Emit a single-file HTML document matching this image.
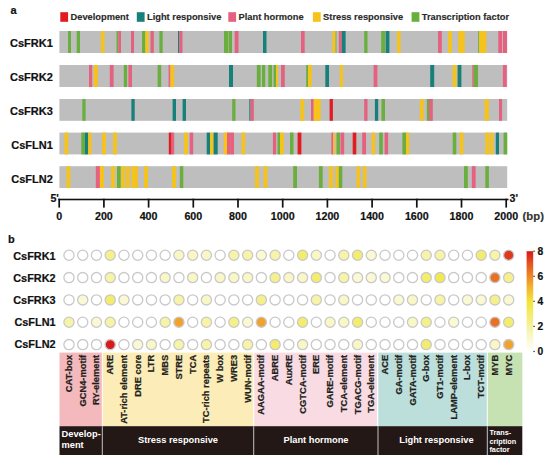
<!DOCTYPE html>
<html><head><meta charset="utf-8"><style>
html,body{margin:0;padding:0;background:#fff;}
body{width:550px;height:463px;overflow:hidden;}
svg{display:block;}
</style></head><body>
<svg width="550" height="463" viewBox="0 0 550 463">
<rect width="550" height="463" fill="#fff"/>
<text x="10.5" y="14.2" font-family="Liberation Sans, sans-serif" font-weight="bold" font-size="11" fill="#111" stroke="#111" stroke-width="0.2">a</text>
<text x="8" y="242.6" font-family="Liberation Sans, sans-serif" font-weight="bold" font-size="11" fill="#111" stroke="#111" stroke-width="0.2">b</text>
<rect x="60.3" y="12.2" width="7.8" height="9.6" fill="#E31B23"/>
<text x="70.5" y="20.4" font-family="Liberation Sans, sans-serif" font-weight="bold" font-size="9.3" fill="#2A2A2A" stroke="#2A2A2A" stroke-width="0.15">Development</text>
<rect x="136.8" y="12.2" width="7.8" height="9.6" fill="#17807A"/>
<text x="147.0" y="20.4" font-family="Liberation Sans, sans-serif" font-weight="bold" font-size="9.3" fill="#2A2A2A" stroke="#2A2A2A" stroke-width="0.15">Light responsive</text>
<rect x="228.3" y="12.2" width="7.8" height="9.6" fill="#E5617F"/>
<text x="238.5" y="20.4" font-family="Liberation Sans, sans-serif" font-weight="bold" font-size="9.3" fill="#2A2A2A" stroke="#2A2A2A" stroke-width="0.15">Plant hormone</text>
<rect x="312.9" y="12.2" width="7.8" height="9.6" fill="#F6C31C"/>
<text x="323.09999999999997" y="20.4" font-family="Liberation Sans, sans-serif" font-weight="bold" font-size="9.3" fill="#2A2A2A" stroke="#2A2A2A" stroke-width="0.15">Stress responsive</text>
<rect x="411.6" y="12.2" width="7.8" height="9.6" fill="#6AAE3E"/>
<text x="421.8" y="20.4" font-family="Liberation Sans, sans-serif" font-weight="bold" font-size="9.3" fill="#2A2A2A" stroke="#2A2A2A" stroke-width="0.15">Transcription factor</text>
<rect x="59.4" y="31" width="447.8" height="22.0" fill="#BEBEBE"/>
<rect x="68" y="31" width="3.00" height="22.0" fill="#6AAE3E"/>
<rect x="76.7" y="31" width="3.30" height="22.0" fill="#6AAE3E"/>
<rect x="100.9" y="31" width="3.60" height="22.0" fill="#F6C31C"/>
<rect x="116.5" y="31" width="1.80" height="22.0" fill="#6AAE3E"/>
<rect x="118.3" y="31" width="2.70" height="22.0" fill="#E5617F"/>
<rect x="131" y="31" width="3.00" height="22.0" fill="#E5617F"/>
<rect x="142" y="31" width="3.40" height="22.0" fill="#6AAE3E"/>
<rect x="145.4" y="31" width="3.30" height="22.0" fill="#F6C31C"/>
<rect x="150.5" y="31" width="3.30" height="22.0" fill="#E5617F"/>
<rect x="159.4" y="31" width="3.30" height="22.0" fill="#6AAE3E"/>
<rect x="178" y="31" width="1.20" height="22.0" fill="#17807A"/>
<rect x="179.2" y="31" width="3.30" height="22.0" fill="#E5617F"/>
<rect x="224" y="31" width="4.30" height="22.0" fill="#6AAE3E"/>
<rect x="228.8" y="31" width="3.20" height="22.0" fill="#6AAE3E"/>
<rect x="234.7" y="31" width="3.80" height="22.0" fill="#E5617F"/>
<rect x="263" y="31" width="3.50" height="22.0" fill="#17807A"/>
<rect x="301" y="31" width="3.70" height="22.0" fill="#E5617F"/>
<rect x="332.4" y="31" width="3.20" height="22.0" fill="#F6C31C"/>
<rect x="335.6" y="31" width="0.80" height="22.0" fill="#6AAE3E"/>
<rect x="338.8" y="31" width="3.00" height="22.0" fill="#E5617F"/>
<rect x="341.8" y="31" width="3.80" height="22.0" fill="#17807A"/>
<rect x="364.2" y="31" width="3.30" height="22.0" fill="#6AAE3E"/>
<rect x="381.2" y="31" width="3.80" height="22.0" fill="#6AAE3E"/>
<rect x="385.6" y="31" width="3.80" height="22.0" fill="#17807A"/>
<rect x="397" y="31" width="3.60" height="22.0" fill="#F6C31C"/>
<rect x="438" y="31" width="3.80" height="22.0" fill="#E5617F"/>
<rect x="448.2" y="31" width="3.80" height="22.0" fill="#F6C31C"/>
<rect x="458.3" y="31" width="6.40" height="22.0" fill="#F6C31C"/>
<rect x="478.2" y="31" width="1.00" height="22.0" fill="#6AAE3E"/>
<rect x="479.2" y="31" width="7.10" height="22.0" fill="#F6C31C"/>
<rect x="498.3" y="31" width="3.80" height="22.0" fill="#E5617F"/>
<rect x="503" y="31" width="4.00" height="22.0" fill="#E5617F"/>
<text x="52.8" y="46.9" text-anchor="end" font-family="Liberation Sans, sans-serif" font-weight="bold" font-size="11" fill="#111" stroke="#111" stroke-width="0.2">CsFRK1</text>
<rect x="59.4" y="65" width="447.8" height="22.0" fill="#BEBEBE"/>
<rect x="89" y="65" width="3.20" height="22.0" fill="#E5617F"/>
<rect x="93.8" y="65" width="4.00" height="22.0" fill="#F6C31C"/>
<rect x="109.8" y="65" width="3.80" height="22.0" fill="#E5617F"/>
<rect x="123.8" y="65" width="3.30" height="22.0" fill="#6AAE3E"/>
<rect x="128.4" y="65" width="3.60" height="22.0" fill="#E5617F"/>
<rect x="157.6" y="65" width="3.60" height="22.0" fill="#6AAE3E"/>
<rect x="168.6" y="65" width="1.80" height="22.0" fill="#E5617F"/>
<rect x="170.4" y="65" width="3.80" height="22.0" fill="#F6C31C"/>
<rect x="229" y="65" width="4.00" height="22.0" fill="#17807A"/>
<rect x="256.8" y="65" width="3.90" height="22.0" fill="#6AAE3E"/>
<rect x="262" y="65" width="3.20" height="22.0" fill="#6AAE3E"/>
<rect x="268.3" y="65" width="3.80" height="22.0" fill="#6AAE3E"/>
<rect x="273.6" y="65" width="2.40" height="22.0" fill="#6AAE3E"/>
<rect x="276" y="65" width="2.00" height="22.0" fill="#F6C31C"/>
<rect x="281" y="65" width="3.80" height="22.0" fill="#E5617F"/>
<rect x="306.2" y="65" width="1.80" height="22.0" fill="#6AAE3E"/>
<rect x="308" y="65" width="3.80" height="22.0" fill="#F6C31C"/>
<rect x="325.3" y="65" width="3.70" height="22.0" fill="#17807A"/>
<rect x="339.8" y="65" width="3.20" height="22.0" fill="#F6C31C"/>
<rect x="373.6" y="65" width="3.80" height="22.0" fill="#E5617F"/>
<rect x="430.2" y="65" width="4.00" height="22.0" fill="#17807A"/>
<rect x="452.7" y="65" width="3.90" height="22.0" fill="#F6C31C"/>
<rect x="457.6" y="65" width="3.80" height="22.0" fill="#17807A"/>
<rect x="472.3" y="65" width="1.50" height="22.0" fill="#E5617F"/>
<rect x="473.8" y="65" width="4.20" height="22.0" fill="#6AAE3E"/>
<rect x="502.9" y="65" width="3.80" height="22.0" fill="#E5617F"/>
<text x="52.8" y="80.9" text-anchor="end" font-family="Liberation Sans, sans-serif" font-weight="bold" font-size="11" fill="#111" stroke="#111" stroke-width="0.2">CsFRK2</text>
<rect x="59.4" y="99" width="447.8" height="21.8" fill="#BEBEBE"/>
<rect x="82.3" y="99" width="3.30" height="21.8" fill="#6AAE3E"/>
<rect x="131.4" y="99" width="3.30" height="21.8" fill="#17807A"/>
<rect x="172.6" y="99" width="3.40" height="21.8" fill="#17807A"/>
<rect x="182.6" y="99" width="3.40" height="21.8" fill="#17807A"/>
<rect x="232.2" y="99" width="3.30" height="21.8" fill="#6AAE3E"/>
<rect x="249.3" y="99" width="1.20" height="21.8" fill="#17807A"/>
<rect x="250.5" y="99" width="3.30" height="21.8" fill="#E5617F"/>
<rect x="300.4" y="99" width="3.80" height="21.8" fill="#F6C31C"/>
<rect x="311" y="99" width="2.70" height="21.8" fill="#E5617F"/>
<rect x="313.7" y="99" width="7.00" height="21.8" fill="#F6C31C"/>
<rect x="329.6" y="99" width="3.30" height="21.8" fill="#E31B23"/>
<rect x="364.2" y="99" width="3.30" height="21.8" fill="#E5617F"/>
<rect x="374.9" y="99" width="3.30" height="21.8" fill="#17807A"/>
<rect x="381.5" y="99" width="3.50" height="21.8" fill="#6AAE3E"/>
<rect x="419.8" y="99" width="3.80" height="21.8" fill="#F6C31C"/>
<rect x="426.8" y="99" width="2.20" height="21.8" fill="#6AAE3E"/>
<rect x="429" y="99" width="3.80" height="21.8" fill="#E5617F"/>
<rect x="484.6" y="99" width="4.30" height="21.8" fill="#F6C31C"/>
<rect x="499" y="99" width="3.10" height="21.8" fill="#E5617F"/>
<text x="52.8" y="114.9" text-anchor="end" font-family="Liberation Sans, sans-serif" font-weight="bold" font-size="11" fill="#111" stroke="#111" stroke-width="0.2">CsFRK3</text>
<rect x="59.4" y="132.6" width="447.8" height="21.8" fill="#BEBEBE"/>
<rect x="64.5" y="132.6" width="3.80" height="21.8" fill="#F6C31C"/>
<rect x="81.3" y="132.6" width="3.60" height="21.8" fill="#6AAE3E"/>
<rect x="84.9" y="132.6" width="3.30" height="21.8" fill="#17807A"/>
<rect x="88.2" y="132.6" width="3.30" height="21.8" fill="#F6C31C"/>
<rect x="102.2" y="132.6" width="3.80" height="21.8" fill="#F6C31C"/>
<rect x="113.1" y="132.6" width="3.80" height="21.8" fill="#F6C31C"/>
<rect x="168.8" y="132.6" width="2.80" height="21.8" fill="#E31B23"/>
<rect x="171.6" y="132.6" width="2.60" height="21.8" fill="#E5617F"/>
<rect x="184" y="132.6" width="3.90" height="21.8" fill="#F6C31C"/>
<rect x="189.7" y="132.6" width="3.50" height="21.8" fill="#E5617F"/>
<rect x="206.7" y="132.6" width="3.30" height="21.8" fill="#17807A"/>
<rect x="210" y="132.6" width="3.60" height="21.8" fill="#F6C31C"/>
<rect x="213.6" y="132.6" width="4.10" height="21.8" fill="#17807A"/>
<rect x="223.8" y="132.6" width="3.20" height="21.8" fill="#F6C31C"/>
<rect x="227" y="132.6" width="3.90" height="21.8" fill="#E5617F"/>
<rect x="230.9" y="132.6" width="3.10" height="21.8" fill="#E5617F"/>
<rect x="241.6" y="132.6" width="3.50" height="21.8" fill="#F6C31C"/>
<rect x="272.9" y="132.6" width="3.30" height="21.8" fill="#E5617F"/>
<rect x="277.5" y="132.6" width="2.50" height="21.8" fill="#6AAE3E"/>
<rect x="280" y="132.6" width="3.80" height="21.8" fill="#F6C31C"/>
<rect x="290" y="132.6" width="3.50" height="21.8" fill="#6AAE3E"/>
<rect x="297.6" y="132.6" width="3.80" height="21.8" fill="#E31B23"/>
<rect x="331.4" y="132.6" width="1.80" height="21.8" fill="#E5617F"/>
<rect x="333.2" y="132.6" width="1.80" height="21.8" fill="#F6C31C"/>
<rect x="336.5" y="132.6" width="3.50" height="21.8" fill="#6AAE3E"/>
<rect x="340.5" y="132.6" width="3.70" height="21.8" fill="#E5617F"/>
<rect x="352.7" y="132.6" width="3.60" height="21.8" fill="#E31B23"/>
<rect x="362.2" y="132.6" width="3.80" height="21.8" fill="#E5617F"/>
<rect x="371.6" y="132.6" width="3.50" height="21.8" fill="#F6C31C"/>
<rect x="379.2" y="132.6" width="3.60" height="21.8" fill="#6AAE3E"/>
<rect x="384.6" y="132.6" width="3.50" height="21.8" fill="#E5617F"/>
<rect x="402.4" y="132.6" width="3.60" height="21.8" fill="#6AAE3E"/>
<rect x="406" y="132.6" width="3.20" height="21.8" fill="#F6C31C"/>
<rect x="452.7" y="132.6" width="3.60" height="21.8" fill="#6AAE3E"/>
<rect x="459.6" y="132.6" width="3.80" height="21.8" fill="#F6C31C"/>
<rect x="485.3" y="132.6" width="4.10" height="21.8" fill="#F6C31C"/>
<rect x="490.2" y="132.6" width="3.30" height="21.8" fill="#F6C31C"/>
<rect x="495.8" y="132.6" width="3.20" height="21.8" fill="#17807A"/>
<rect x="503.6" y="132.6" width="3.60" height="21.8" fill="#6AAE3E"/>
<text x="52.8" y="148.9" text-anchor="end" font-family="Liberation Sans, sans-serif" font-weight="bold" font-size="11" fill="#111" stroke="#111" stroke-width="0.2">CsFLN1</text>
<rect x="59.4" y="166.2" width="447.8" height="21.8" fill="#BEBEBE"/>
<rect x="66.5" y="166.2" width="3.90" height="21.8" fill="#F6C31C"/>
<rect x="95.8" y="166.2" width="4.10" height="21.8" fill="#E5617F"/>
<rect x="99.9" y="166.2" width="4.10" height="21.8" fill="#F6C31C"/>
<rect x="111" y="166.2" width="3.90" height="21.8" fill="#F6C31C"/>
<rect x="117" y="166.2" width="3.70" height="21.8" fill="#6AAE3E"/>
<rect x="121.2" y="166.2" width="3.80" height="21.8" fill="#F6C31C"/>
<rect x="126.3" y="166.2" width="3.30" height="21.8" fill="#F6C31C"/>
<rect x="131.4" y="166.2" width="6.40" height="21.8" fill="#F6C31C"/>
<rect x="144.1" y="166.2" width="3.90" height="21.8" fill="#F6C31C"/>
<rect x="172.1" y="166.2" width="3.90" height="21.8" fill="#F6C31C"/>
<rect x="179.8" y="166.2" width="3.50" height="21.8" fill="#6AAE3E"/>
<rect x="255" y="166.2" width="3.90" height="21.8" fill="#F6C31C"/>
<rect x="263.5" y="166.2" width="3.80" height="21.8" fill="#F6C31C"/>
<rect x="293.2" y="166.2" width="3.80" height="21.8" fill="#6AAE3E"/>
<rect x="318.9" y="166.2" width="3.80" height="21.8" fill="#6AAE3E"/>
<rect x="329" y="166.2" width="3.90" height="21.8" fill="#F6C31C"/>
<rect x="335.4" y="166.2" width="3.40" height="21.8" fill="#F6C31C"/>
<rect x="338.8" y="166.2" width="3.50" height="21.8" fill="#6AAE3E"/>
<rect x="356.6" y="166.2" width="3.50" height="21.8" fill="#F6C31C"/>
<rect x="362.9" y="166.2" width="3.60" height="21.8" fill="#F6C31C"/>
<rect x="464" y="166.2" width="3.80" height="21.8" fill="#6AAE3E"/>
<rect x="471.8" y="166.2" width="3.80" height="21.8" fill="#E5617F"/>
<rect x="485.3" y="166.2" width="3.60" height="21.8" fill="#6AAE3E"/>
<text x="52.8" y="182.9" text-anchor="end" font-family="Liberation Sans, sans-serif" font-weight="bold" font-size="11" fill="#111" stroke="#111" stroke-width="0.2">CsFLN2</text>
<rect x="58.3" y="198.7" width="450.2" height="1.6" fill="#111"/>
<rect x="58.35" y="198.7" width="1.7" height="8.9" fill="#111"/>
<text x="59.2" y="219.6" text-anchor="middle" font-family="Liberation Sans, sans-serif" font-weight="bold" font-size="10.7" fill="#111" stroke="#111" stroke-width="0.2">0</text>
<rect x="103.05" y="198.7" width="1.7" height="8.9" fill="#111"/>
<text x="103.9" y="219.6" text-anchor="middle" font-family="Liberation Sans, sans-serif" font-weight="bold" font-size="10.7" fill="#111" stroke="#111" stroke-width="0.2">200</text>
<rect x="147.75" y="198.7" width="1.7" height="8.9" fill="#111"/>
<text x="148.6" y="219.6" text-anchor="middle" font-family="Liberation Sans, sans-serif" font-weight="bold" font-size="10.7" fill="#111" stroke="#111" stroke-width="0.2">400</text>
<rect x="192.45" y="198.7" width="1.7" height="8.9" fill="#111"/>
<text x="193.3" y="219.6" text-anchor="middle" font-family="Liberation Sans, sans-serif" font-weight="bold" font-size="10.7" fill="#111" stroke="#111" stroke-width="0.2">600</text>
<rect x="237.15" y="198.7" width="1.7" height="8.9" fill="#111"/>
<text x="238.0" y="219.6" text-anchor="middle" font-family="Liberation Sans, sans-serif" font-weight="bold" font-size="10.7" fill="#111" stroke="#111" stroke-width="0.2">800</text>
<rect x="281.85" y="198.7" width="1.7" height="8.9" fill="#111"/>
<text x="282.7" y="219.6" text-anchor="middle" font-family="Liberation Sans, sans-serif" font-weight="bold" font-size="10.7" fill="#111" stroke="#111" stroke-width="0.2">1000</text>
<rect x="326.55" y="198.7" width="1.7" height="8.9" fill="#111"/>
<text x="327.4" y="219.6" text-anchor="middle" font-family="Liberation Sans, sans-serif" font-weight="bold" font-size="10.7" fill="#111" stroke="#111" stroke-width="0.2">1200</text>
<rect x="371.25" y="198.7" width="1.7" height="8.9" fill="#111"/>
<text x="372.1" y="219.6" text-anchor="middle" font-family="Liberation Sans, sans-serif" font-weight="bold" font-size="10.7" fill="#111" stroke="#111" stroke-width="0.2">1400</text>
<rect x="415.95" y="198.7" width="1.7" height="8.9" fill="#111"/>
<text x="416.8" y="219.6" text-anchor="middle" font-family="Liberation Sans, sans-serif" font-weight="bold" font-size="10.7" fill="#111" stroke="#111" stroke-width="0.2">1600</text>
<rect x="460.65" y="198.7" width="1.7" height="8.9" fill="#111"/>
<text x="461.5" y="219.6" text-anchor="middle" font-family="Liberation Sans, sans-serif" font-weight="bold" font-size="10.7" fill="#111" stroke="#111" stroke-width="0.2">1800</text>
<rect x="505.35" y="198.7" width="1.7" height="8.9" fill="#111"/>
<text x="506.2" y="219.6" text-anchor="middle" font-family="Liberation Sans, sans-serif" font-weight="bold" font-size="10.7" fill="#111" stroke="#111" stroke-width="0.2">2000</text>
<text x="50.4" y="201.8" font-family="Liberation Sans, sans-serif" font-weight="bold" font-size="10.6" fill="#111" stroke="#111" stroke-width="0.2">5'</text>
<text x="509.6" y="201.6" font-family="Liberation Sans, sans-serif" font-weight="bold" font-size="10.6" fill="#111" stroke="#111" stroke-width="0.2">3'</text>
<text x="522.6" y="220.2" font-family="Liberation Sans, sans-serif" font-weight="bold" font-size="11.3" fill="#333" stroke="#333" stroke-width="0.15">(bp)</text>
<text x="55.6" y="259.5" text-anchor="end" font-family="Liberation Sans, sans-serif" font-weight="bold" font-size="10.9" fill="#111" stroke="#111" stroke-width="0.2">CsFRK1</text>
<circle cx="69.00" cy="255.2" r="5.1" fill="#FFFFFF" stroke="#C9C9C9" stroke-width="1.3"/>
<circle cx="82.74" cy="255.2" r="5.1" fill="#FFFFFF" stroke="#C9C9C9" stroke-width="1.3"/>
<circle cx="96.48" cy="255.2" r="5.1" fill="#FFFFFF" stroke="#C9C9C9" stroke-width="1.3"/>
<circle cx="110.22" cy="255.2" r="5.1" fill="#F6F08A" stroke="#C9C9C9" stroke-width="1.3"/>
<circle cx="123.96" cy="255.2" r="5.1" fill="#FFFFFF" stroke="#C9C9C9" stroke-width="1.3"/>
<circle cx="137.70" cy="255.2" r="5.1" fill="#FFFFFF" stroke="#C9C9C9" stroke-width="1.3"/>
<circle cx="151.44" cy="255.2" r="5.1" fill="#FFFFFF" stroke="#C9C9C9" stroke-width="1.3"/>
<circle cx="165.18" cy="255.2" r="5.1" fill="#FFFFFF" stroke="#C9C9C9" stroke-width="1.3"/>
<circle cx="178.92" cy="255.2" r="5.1" fill="#F9F7C6" stroke="#C9C9C9" stroke-width="1.3"/>
<circle cx="192.66" cy="255.2" r="5.1" fill="#F9F7C6" stroke="#C9C9C9" stroke-width="1.3"/>
<circle cx="206.40" cy="255.2" r="5.1" fill="#F9F7C6" stroke="#C9C9C9" stroke-width="1.3"/>
<circle cx="220.14" cy="255.2" r="5.1" fill="#FFFFFF" stroke="#C9C9C9" stroke-width="1.3"/>
<circle cx="233.88" cy="255.2" r="5.1" fill="#F7F4A8" stroke="#C9C9C9" stroke-width="1.3"/>
<circle cx="247.62" cy="255.2" r="5.1" fill="#F7F4A8" stroke="#C9C9C9" stroke-width="1.3"/>
<circle cx="261.36" cy="255.2" r="5.1" fill="#FAF9D4" stroke="#C9C9C9" stroke-width="1.3"/>
<circle cx="275.10" cy="255.2" r="5.1" fill="#F7F4A8" stroke="#C9C9C9" stroke-width="1.3"/>
<circle cx="288.84" cy="255.2" r="5.1" fill="#FFFFFF" stroke="#C9C9C9" stroke-width="1.3"/>
<circle cx="302.58" cy="255.2" r="5.1" fill="#F4EC6C" stroke="#C9C9C9" stroke-width="1.3"/>
<circle cx="316.32" cy="255.2" r="5.1" fill="#F9F7C6" stroke="#C9C9C9" stroke-width="1.3"/>
<circle cx="330.06" cy="255.2" r="5.1" fill="#FFFFFF" stroke="#C9C9C9" stroke-width="1.3"/>
<circle cx="343.80" cy="255.2" r="5.1" fill="#F7F4A8" stroke="#C9C9C9" stroke-width="1.3"/>
<circle cx="357.54" cy="255.2" r="5.1" fill="#F4EC6C" stroke="#C9C9C9" stroke-width="1.3"/>
<circle cx="371.28" cy="255.2" r="5.1" fill="#FAF9D4" stroke="#C9C9C9" stroke-width="1.3"/>
<circle cx="385.02" cy="255.2" r="5.1" fill="#FFFFFF" stroke="#C9C9C9" stroke-width="1.3"/>
<circle cx="398.76" cy="255.2" r="5.1" fill="#FFFFFF" stroke="#C9C9C9" stroke-width="1.3"/>
<circle cx="412.50" cy="255.2" r="5.1" fill="#FFFFFF" stroke="#C9C9C9" stroke-width="1.3"/>
<circle cx="426.24" cy="255.2" r="5.1" fill="#F7F4A8" stroke="#C9C9C9" stroke-width="1.3"/>
<circle cx="439.98" cy="255.2" r="5.1" fill="#F7F4A8" stroke="#C9C9C9" stroke-width="1.3"/>
<circle cx="453.72" cy="255.2" r="5.1" fill="#FFFFFF" stroke="#C9C9C9" stroke-width="1.3"/>
<circle cx="467.46" cy="255.2" r="5.1" fill="#FFFFFF" stroke="#C9C9C9" stroke-width="1.3"/>
<circle cx="481.20" cy="255.2" r="5.1" fill="#F4EC6C" stroke="#C9C9C9" stroke-width="1.3"/>
<circle cx="494.94" cy="255.2" r="5.1" fill="#F7F4A8" stroke="#C9C9C9" stroke-width="1.3"/>
<circle cx="508.68" cy="255.2" r="5.1" fill="#DE391E" stroke="#C9C9C9" stroke-width="1.3"/>
<text x="55.6" y="281.6" text-anchor="end" font-family="Liberation Sans, sans-serif" font-weight="bold" font-size="10.9" fill="#111" stroke="#111" stroke-width="0.2">CsFRK2</text>
<circle cx="69.00" cy="277.6" r="5.1" fill="#FFFFFF" stroke="#C9C9C9" stroke-width="1.3"/>
<circle cx="82.74" cy="277.6" r="5.1" fill="#FFFFFF" stroke="#C9C9C9" stroke-width="1.3"/>
<circle cx="96.48" cy="277.6" r="5.1" fill="#FFFFFF" stroke="#C9C9C9" stroke-width="1.3"/>
<circle cx="110.22" cy="277.6" r="5.1" fill="#F7F4A8" stroke="#C9C9C9" stroke-width="1.3"/>
<circle cx="123.96" cy="277.6" r="5.1" fill="#FFFFFF" stroke="#C9C9C9" stroke-width="1.3"/>
<circle cx="137.70" cy="277.6" r="5.1" fill="#FFFFFF" stroke="#C9C9C9" stroke-width="1.3"/>
<circle cx="151.44" cy="277.6" r="5.1" fill="#FFFFFF" stroke="#C9C9C9" stroke-width="1.3"/>
<circle cx="165.18" cy="277.6" r="5.1" fill="#F9F7C6" stroke="#C9C9C9" stroke-width="1.3"/>
<circle cx="178.92" cy="277.6" r="5.1" fill="#FFFFFF" stroke="#C9C9C9" stroke-width="1.3"/>
<circle cx="192.66" cy="277.6" r="5.1" fill="#F9F7C6" stroke="#C9C9C9" stroke-width="1.3"/>
<circle cx="206.40" cy="277.6" r="5.1" fill="#FFFFFF" stroke="#C9C9C9" stroke-width="1.3"/>
<circle cx="220.14" cy="277.6" r="5.1" fill="#F9F7C6" stroke="#C9C9C9" stroke-width="1.3"/>
<circle cx="233.88" cy="277.6" r="5.1" fill="#F9F7C6" stroke="#C9C9C9" stroke-width="1.3"/>
<circle cx="247.62" cy="277.6" r="5.1" fill="#F9F7C6" stroke="#C9C9C9" stroke-width="1.3"/>
<circle cx="261.36" cy="277.6" r="5.1" fill="#FFFFFF" stroke="#C9C9C9" stroke-width="1.3"/>
<circle cx="275.10" cy="277.6" r="5.1" fill="#F6F08A" stroke="#C9C9C9" stroke-width="1.3"/>
<circle cx="288.84" cy="277.6" r="5.1" fill="#F9F7C6" stroke="#C9C9C9" stroke-width="1.3"/>
<circle cx="302.58" cy="277.6" r="5.1" fill="#F9F7C6" stroke="#C9C9C9" stroke-width="1.3"/>
<circle cx="316.32" cy="277.6" r="5.1" fill="#F4EC6C" stroke="#C9C9C9" stroke-width="1.3"/>
<circle cx="330.06" cy="277.6" r="5.1" fill="#FFFFFF" stroke="#C9C9C9" stroke-width="1.3"/>
<circle cx="343.80" cy="277.6" r="5.1" fill="#F7F4A8" stroke="#C9C9C9" stroke-width="1.3"/>
<circle cx="357.54" cy="277.6" r="5.1" fill="#FAF9D4" stroke="#C9C9C9" stroke-width="1.3"/>
<circle cx="371.28" cy="277.6" r="5.1" fill="#FAF9D4" stroke="#C9C9C9" stroke-width="1.3"/>
<circle cx="385.02" cy="277.6" r="5.1" fill="#FAF9D4" stroke="#C9C9C9" stroke-width="1.3"/>
<circle cx="398.76" cy="277.6" r="5.1" fill="#FFFFFF" stroke="#C9C9C9" stroke-width="1.3"/>
<circle cx="412.50" cy="277.6" r="5.1" fill="#FFFFFF" stroke="#C9C9C9" stroke-width="1.3"/>
<circle cx="426.24" cy="277.6" r="5.1" fill="#F4EC6C" stroke="#C9C9C9" stroke-width="1.3"/>
<circle cx="439.98" cy="277.6" r="5.1" fill="#F2E94E" stroke="#C9C9C9" stroke-width="1.3"/>
<circle cx="453.72" cy="277.6" r="5.1" fill="#FFFFFF" stroke="#C9C9C9" stroke-width="1.3"/>
<circle cx="467.46" cy="277.6" r="5.1" fill="#FFFFFF" stroke="#C9C9C9" stroke-width="1.3"/>
<circle cx="481.20" cy="277.6" r="5.1" fill="#FFFFFF" stroke="#C9C9C9" stroke-width="1.3"/>
<circle cx="494.94" cy="277.6" r="5.1" fill="#E87126" stroke="#C9C9C9" stroke-width="1.3"/>
<circle cx="508.68" cy="277.6" r="5.1" fill="#F6F08A" stroke="#C9C9C9" stroke-width="1.3"/>
<text x="55.6" y="303.7" text-anchor="end" font-family="Liberation Sans, sans-serif" font-weight="bold" font-size="10.9" fill="#111" stroke="#111" stroke-width="0.2">CsFRK3</text>
<circle cx="69.00" cy="299.9" r="5.1" fill="#FFFFFF" stroke="#C9C9C9" stroke-width="1.3"/>
<circle cx="82.74" cy="299.9" r="5.1" fill="#FAF9D4" stroke="#C9C9C9" stroke-width="1.3"/>
<circle cx="96.48" cy="299.9" r="5.1" fill="#FFFFFF" stroke="#C9C9C9" stroke-width="1.3"/>
<circle cx="110.22" cy="299.9" r="5.1" fill="#F4EC6C" stroke="#C9C9C9" stroke-width="1.3"/>
<circle cx="123.96" cy="299.9" r="5.1" fill="#FAF9D4" stroke="#C9C9C9" stroke-width="1.3"/>
<circle cx="137.70" cy="299.9" r="5.1" fill="#FFFFFF" stroke="#C9C9C9" stroke-width="1.3"/>
<circle cx="151.44" cy="299.9" r="5.1" fill="#FFFFFF" stroke="#C9C9C9" stroke-width="1.3"/>
<circle cx="165.18" cy="299.9" r="5.1" fill="#FFFFFF" stroke="#C9C9C9" stroke-width="1.3"/>
<circle cx="178.92" cy="299.9" r="5.1" fill="#F7F4A8" stroke="#C9C9C9" stroke-width="1.3"/>
<circle cx="192.66" cy="299.9" r="5.1" fill="#FFFFFF" stroke="#C9C9C9" stroke-width="1.3"/>
<circle cx="206.40" cy="299.9" r="5.1" fill="#F9F7C6" stroke="#C9C9C9" stroke-width="1.3"/>
<circle cx="220.14" cy="299.9" r="5.1" fill="#FFFFFF" stroke="#C9C9C9" stroke-width="1.3"/>
<circle cx="233.88" cy="299.9" r="5.1" fill="#FFFFFF" stroke="#C9C9C9" stroke-width="1.3"/>
<circle cx="247.62" cy="299.9" r="5.1" fill="#FFFFFF" stroke="#C9C9C9" stroke-width="1.3"/>
<circle cx="261.36" cy="299.9" r="5.1" fill="#F6F08A" stroke="#C9C9C9" stroke-width="1.3"/>
<circle cx="275.10" cy="299.9" r="5.1" fill="#FFFFFF" stroke="#C9C9C9" stroke-width="1.3"/>
<circle cx="288.84" cy="299.9" r="5.1" fill="#FFFFFF" stroke="#C9C9C9" stroke-width="1.3"/>
<circle cx="302.58" cy="299.9" r="5.1" fill="#FFFFFF" stroke="#C9C9C9" stroke-width="1.3"/>
<circle cx="316.32" cy="299.9" r="5.1" fill="#F7F4A8" stroke="#C9C9C9" stroke-width="1.3"/>
<circle cx="330.06" cy="299.9" r="5.1" fill="#FFFFFF" stroke="#C9C9C9" stroke-width="1.3"/>
<circle cx="343.80" cy="299.9" r="5.1" fill="#F9F7C6" stroke="#C9C9C9" stroke-width="1.3"/>
<circle cx="357.54" cy="299.9" r="5.1" fill="#FFFFFF" stroke="#C9C9C9" stroke-width="1.3"/>
<circle cx="371.28" cy="299.9" r="5.1" fill="#FFFFFF" stroke="#C9C9C9" stroke-width="1.3"/>
<circle cx="385.02" cy="299.9" r="5.1" fill="#FFFFFF" stroke="#C9C9C9" stroke-width="1.3"/>
<circle cx="398.76" cy="299.9" r="5.1" fill="#FAF9D4" stroke="#C9C9C9" stroke-width="1.3"/>
<circle cx="412.50" cy="299.9" r="5.1" fill="#F9F7C6" stroke="#C9C9C9" stroke-width="1.3"/>
<circle cx="426.24" cy="299.9" r="5.1" fill="#FFFFFF" stroke="#C9C9C9" stroke-width="1.3"/>
<circle cx="439.98" cy="299.9" r="5.1" fill="#F7F4A8" stroke="#C9C9C9" stroke-width="1.3"/>
<circle cx="453.72" cy="299.9" r="5.1" fill="#FFFFFF" stroke="#C9C9C9" stroke-width="1.3"/>
<circle cx="467.46" cy="299.9" r="5.1" fill="#FAF9D4" stroke="#C9C9C9" stroke-width="1.3"/>
<circle cx="481.20" cy="299.9" r="5.1" fill="#FAF9D4" stroke="#C9C9C9" stroke-width="1.3"/>
<circle cx="494.94" cy="299.9" r="5.1" fill="#F6F08A" stroke="#C9C9C9" stroke-width="1.3"/>
<circle cx="508.68" cy="299.9" r="5.1" fill="#FAF9D4" stroke="#C9C9C9" stroke-width="1.3"/>
<text x="55.6" y="325.8" text-anchor="end" font-family="Liberation Sans, sans-serif" font-weight="bold" font-size="10.9" fill="#111" stroke="#111" stroke-width="0.2">CsFLN1</text>
<circle cx="69.00" cy="322.2" r="5.1" fill="#F7F4A8" stroke="#C9C9C9" stroke-width="1.3"/>
<circle cx="82.74" cy="322.2" r="5.1" fill="#FFFFFF" stroke="#C9C9C9" stroke-width="1.3"/>
<circle cx="96.48" cy="322.2" r="5.1" fill="#FAF9D4" stroke="#C9C9C9" stroke-width="1.3"/>
<circle cx="110.22" cy="322.2" r="5.1" fill="#F7F4A8" stroke="#C9C9C9" stroke-width="1.3"/>
<circle cx="123.96" cy="322.2" r="5.1" fill="#FFFFFF" stroke="#C9C9C9" stroke-width="1.3"/>
<circle cx="137.70" cy="322.2" r="5.1" fill="#FFFFFF" stroke="#C9C9C9" stroke-width="1.3"/>
<circle cx="151.44" cy="322.2" r="5.1" fill="#FFFFFF" stroke="#C9C9C9" stroke-width="1.3"/>
<circle cx="165.18" cy="322.2" r="5.1" fill="#F7F4A8" stroke="#C9C9C9" stroke-width="1.3"/>
<circle cx="178.92" cy="322.2" r="5.1" fill="#EFA32E" stroke="#C9C9C9" stroke-width="1.3"/>
<circle cx="192.66" cy="322.2" r="5.1" fill="#FFFFFF" stroke="#C9C9C9" stroke-width="1.3"/>
<circle cx="206.40" cy="322.2" r="5.1" fill="#F7F4A8" stroke="#C9C9C9" stroke-width="1.3"/>
<circle cx="220.14" cy="322.2" r="5.1" fill="#FFFFFF" stroke="#C9C9C9" stroke-width="1.3"/>
<circle cx="233.88" cy="322.2" r="5.1" fill="#F6F08A" stroke="#C9C9C9" stroke-width="1.3"/>
<circle cx="247.62" cy="322.2" r="5.1" fill="#FAF9D4" stroke="#C9C9C9" stroke-width="1.3"/>
<circle cx="261.36" cy="322.2" r="5.1" fill="#EFA32E" stroke="#C9C9C9" stroke-width="1.3"/>
<circle cx="275.10" cy="322.2" r="5.1" fill="#FFFFFF" stroke="#C9C9C9" stroke-width="1.3"/>
<circle cx="288.84" cy="322.2" r="5.1" fill="#FFFFFF" stroke="#C9C9C9" stroke-width="1.3"/>
<circle cx="302.58" cy="322.2" r="5.1" fill="#F4EC6C" stroke="#C9C9C9" stroke-width="1.3"/>
<circle cx="316.32" cy="322.2" r="5.1" fill="#FFFFFF" stroke="#C9C9C9" stroke-width="1.3"/>
<circle cx="330.06" cy="322.2" r="5.1" fill="#F9F7C6" stroke="#C9C9C9" stroke-width="1.3"/>
<circle cx="343.80" cy="322.2" r="5.1" fill="#F9F7C6" stroke="#C9C9C9" stroke-width="1.3"/>
<circle cx="357.54" cy="322.2" r="5.1" fill="#F4EC6C" stroke="#C9C9C9" stroke-width="1.3"/>
<circle cx="371.28" cy="322.2" r="5.1" fill="#FFFFFF" stroke="#C9C9C9" stroke-width="1.3"/>
<circle cx="385.02" cy="322.2" r="5.1" fill="#FFFFFF" stroke="#C9C9C9" stroke-width="1.3"/>
<circle cx="398.76" cy="322.2" r="5.1" fill="#FFFFFF" stroke="#C9C9C9" stroke-width="1.3"/>
<circle cx="412.50" cy="322.2" r="5.1" fill="#F9F7C6" stroke="#C9C9C9" stroke-width="1.3"/>
<circle cx="426.24" cy="322.2" r="5.1" fill="#F6F08A" stroke="#C9C9C9" stroke-width="1.3"/>
<circle cx="439.98" cy="322.2" r="5.1" fill="#FFFFFF" stroke="#C9C9C9" stroke-width="1.3"/>
<circle cx="453.72" cy="322.2" r="5.1" fill="#FAF9D4" stroke="#C9C9C9" stroke-width="1.3"/>
<circle cx="467.46" cy="322.2" r="5.1" fill="#FFFFFF" stroke="#C9C9C9" stroke-width="1.3"/>
<circle cx="481.20" cy="322.2" r="5.1" fill="#FFFFFF" stroke="#C9C9C9" stroke-width="1.3"/>
<circle cx="494.94" cy="322.2" r="5.1" fill="#E87126" stroke="#C9C9C9" stroke-width="1.3"/>
<circle cx="508.68" cy="322.2" r="5.1" fill="#F4EC6C" stroke="#C9C9C9" stroke-width="1.3"/>
<text x="55.6" y="347.9" text-anchor="end" font-family="Liberation Sans, sans-serif" font-weight="bold" font-size="10.9" fill="#111" stroke="#111" stroke-width="0.2">CsFLN2</text>
<circle cx="69.00" cy="344.6" r="5.1" fill="#FFFFFF" stroke="#C9C9C9" stroke-width="1.3"/>
<circle cx="82.74" cy="344.6" r="5.1" fill="#FFFFFF" stroke="#C9C9C9" stroke-width="1.3"/>
<circle cx="96.48" cy="344.6" r="5.1" fill="#FFFFFF" stroke="#C9C9C9" stroke-width="1.3"/>
<circle cx="110.22" cy="344.6" r="5.1" fill="#D81A1A" stroke="#C9C9C9" stroke-width="1.3"/>
<circle cx="123.96" cy="344.6" r="5.1" fill="#FFFFFF" stroke="#C9C9C9" stroke-width="1.3"/>
<circle cx="137.70" cy="344.6" r="5.1" fill="#FAF9D4" stroke="#C9C9C9" stroke-width="1.3"/>
<circle cx="151.44" cy="344.6" r="5.1" fill="#F9F7C6" stroke="#C9C9C9" stroke-width="1.3"/>
<circle cx="165.18" cy="344.6" r="5.1" fill="#FFFFFF" stroke="#C9C9C9" stroke-width="1.3"/>
<circle cx="178.92" cy="344.6" r="5.1" fill="#F7F4A8" stroke="#C9C9C9" stroke-width="1.3"/>
<circle cx="192.66" cy="344.6" r="5.1" fill="#FFFFFF" stroke="#C9C9C9" stroke-width="1.3"/>
<circle cx="206.40" cy="344.6" r="5.1" fill="#F7F4A8" stroke="#C9C9C9" stroke-width="1.3"/>
<circle cx="220.14" cy="344.6" r="5.1" fill="#FFFFFF" stroke="#C9C9C9" stroke-width="1.3"/>
<circle cx="233.88" cy="344.6" r="5.1" fill="#FFFFFF" stroke="#C9C9C9" stroke-width="1.3"/>
<circle cx="247.62" cy="344.6" r="5.1" fill="#F7F4A8" stroke="#C9C9C9" stroke-width="1.3"/>
<circle cx="261.36" cy="344.6" r="5.1" fill="#FFFFFF" stroke="#C9C9C9" stroke-width="1.3"/>
<circle cx="275.10" cy="344.6" r="5.1" fill="#F4EC6C" stroke="#C9C9C9" stroke-width="1.3"/>
<circle cx="288.84" cy="344.6" r="5.1" fill="#FFFFFF" stroke="#C9C9C9" stroke-width="1.3"/>
<circle cx="302.58" cy="344.6" r="5.1" fill="#F9F7C6" stroke="#C9C9C9" stroke-width="1.3"/>
<circle cx="316.32" cy="344.6" r="5.1" fill="#FFFFFF" stroke="#C9C9C9" stroke-width="1.3"/>
<circle cx="330.06" cy="344.6" r="5.1" fill="#FFFFFF" stroke="#C9C9C9" stroke-width="1.3"/>
<circle cx="343.80" cy="344.6" r="5.1" fill="#FFFFFF" stroke="#C9C9C9" stroke-width="1.3"/>
<circle cx="357.54" cy="344.6" r="5.1" fill="#F9F7C6" stroke="#C9C9C9" stroke-width="1.3"/>
<circle cx="371.28" cy="344.6" r="5.1" fill="#FFFFFF" stroke="#C9C9C9" stroke-width="1.3"/>
<circle cx="385.02" cy="344.6" r="5.1" fill="#FFFFFF" stroke="#C9C9C9" stroke-width="1.3"/>
<circle cx="398.76" cy="344.6" r="5.1" fill="#FFFFFF" stroke="#C9C9C9" stroke-width="1.3"/>
<circle cx="412.50" cy="344.6" r="5.1" fill="#FFFFFF" stroke="#C9C9C9" stroke-width="1.3"/>
<circle cx="426.24" cy="344.6" r="5.1" fill="#F4EC6C" stroke="#C9C9C9" stroke-width="1.3"/>
<circle cx="439.98" cy="344.6" r="5.1" fill="#FFFFFF" stroke="#C9C9C9" stroke-width="1.3"/>
<circle cx="453.72" cy="344.6" r="5.1" fill="#FFFFFF" stroke="#C9C9C9" stroke-width="1.3"/>
<circle cx="467.46" cy="344.6" r="5.1" fill="#FFFFFF" stroke="#C9C9C9" stroke-width="1.3"/>
<circle cx="481.20" cy="344.6" r="5.1" fill="#FFFFFF" stroke="#C9C9C9" stroke-width="1.3"/>
<circle cx="494.94" cy="344.6" r="5.1" fill="#F9F7C6" stroke="#C9C9C9" stroke-width="1.3"/>
<circle cx="508.68" cy="344.6" r="5.1" fill="#EFA32E" stroke="#C9C9C9" stroke-width="1.3"/>
<defs><linearGradient id="cb" x1="0" y1="1" x2="0" y2="0"><stop offset="0.000" stop-color="#FFFFFF"/><stop offset="0.250" stop-color="#F6F2A0"/><stop offset="0.500" stop-color="#F3E43A"/><stop offset="0.625" stop-color="#F2BA2E"/><stop offset="0.750" stop-color="#EE8826"/><stop offset="0.875" stop-color="#E45420"/><stop offset="1.000" stop-color="#D6181A"/></linearGradient></defs>
<rect x="526.6" y="251.2" width="6.6" height="100.4" fill="url(#cb)"/>
<rect x="533.4" y="350.9" width="1.4" height="1.2" fill="#333"/>
<text x="537.4" y="355.3" font-family="Liberation Sans, sans-serif" font-weight="bold" font-size="10.3" fill="#111" stroke="#111" stroke-width="0.2">0</text>
<rect x="533.4" y="325.8" width="1.4" height="1.2" fill="#333"/>
<text x="537.4" y="330.2" font-family="Liberation Sans, sans-serif" font-weight="bold" font-size="10.3" fill="#111" stroke="#111" stroke-width="0.2">2</text>
<rect x="533.4" y="300.7" width="1.4" height="1.2" fill="#333"/>
<text x="537.4" y="305.1" font-family="Liberation Sans, sans-serif" font-weight="bold" font-size="10.3" fill="#111" stroke="#111" stroke-width="0.2">4</text>
<rect x="533.4" y="275.7" width="1.4" height="1.2" fill="#333"/>
<text x="537.4" y="280.1" font-family="Liberation Sans, sans-serif" font-weight="bold" font-size="10.3" fill="#111" stroke="#111" stroke-width="0.2">6</text>
<rect x="533.4" y="250.6" width="1.4" height="1.2" fill="#333"/>
<text x="537.4" y="255.0" font-family="Liberation Sans, sans-serif" font-weight="bold" font-size="10.3" fill="#111" stroke="#111" stroke-width="0.2">8</text>
<rect x="59.5" y="352.6" width="42.3" height="73.6" fill="#F4B9BC"/>
<rect x="102.8" y="352.6" width="150.4" height="73.6" fill="#FCECB7"/>
<rect x="254.2" y="352.6" width="122.7" height="73.6" fill="#F9DCE3"/>
<rect x="378.3" y="352.6" width="108.5" height="73.6" fill="#BDDFDC"/>
<rect x="487.8" y="352.6" width="34.5" height="73.6" fill="#C6E1B2"/>
<rect x="59.5" y="426.2" width="462.8" height="28.8" fill="#231815"/>
<rect x="101.8" y="426.2" width="1" height="28.8" fill="#C4C4C4"/>
<rect x="253.2" y="426.2" width="1" height="28.8" fill="#C4C4C4"/>
<rect x="377.5" y="426.2" width="1" height="28.8" fill="#C4C4C4"/>
<rect x="486.8" y="426.2" width="1" height="28.8" fill="#C4C4C4"/>
<text transform="translate(72.00,354.8) rotate(-90)" text-anchor="end" font-family="Liberation Sans, sans-serif" font-weight="bold" font-size="9.3" fill="#231F20" stroke="#231F20" stroke-width="0.22">CAT-box</text>
<text transform="translate(85.74,354.8) rotate(-90)" text-anchor="end" font-family="Liberation Sans, sans-serif" font-weight="bold" font-size="9.3" fill="#231F20" stroke="#231F20" stroke-width="0.22">GCN4-motif</text>
<text transform="translate(99.48,354.8) rotate(-90)" text-anchor="end" font-family="Liberation Sans, sans-serif" font-weight="bold" font-size="9.3" fill="#231F20" stroke="#231F20" stroke-width="0.22">RY-element</text>
<text transform="translate(113.22,354.8) rotate(-90)" text-anchor="end" font-family="Liberation Sans, sans-serif" font-weight="bold" font-size="9.3" fill="#231F20" stroke="#231F20" stroke-width="0.22">ARE</text>
<text transform="translate(126.96,354.8) rotate(-90)" text-anchor="end" font-family="Liberation Sans, sans-serif" font-weight="bold" font-size="9.3" fill="#231F20" stroke="#231F20" stroke-width="0.22">AT-rich element</text>
<text transform="translate(140.70,354.8) rotate(-90)" text-anchor="end" font-family="Liberation Sans, sans-serif" font-weight="bold" font-size="9.3" fill="#231F20" stroke="#231F20" stroke-width="0.22">DRE core</text>
<text transform="translate(154.44,354.8) rotate(-90)" text-anchor="end" font-family="Liberation Sans, sans-serif" font-weight="bold" font-size="9.3" fill="#231F20" stroke="#231F20" stroke-width="0.22">LTR</text>
<text transform="translate(168.18,354.8) rotate(-90)" text-anchor="end" font-family="Liberation Sans, sans-serif" font-weight="bold" font-size="9.3" fill="#231F20" stroke="#231F20" stroke-width="0.22">MBS</text>
<text transform="translate(181.92,354.8) rotate(-90)" text-anchor="end" font-family="Liberation Sans, sans-serif" font-weight="bold" font-size="9.3" fill="#231F20" stroke="#231F20" stroke-width="0.22">STRE</text>
<text transform="translate(195.66,354.8) rotate(-90)" text-anchor="end" font-family="Liberation Sans, sans-serif" font-weight="bold" font-size="9.3" fill="#231F20" stroke="#231F20" stroke-width="0.22">TCA</text>
<text transform="translate(209.40,354.8) rotate(-90)" text-anchor="end" font-family="Liberation Sans, sans-serif" font-weight="bold" font-size="9.3" fill="#231F20" stroke="#231F20" stroke-width="0.22">TC-rich repeats</text>
<text transform="translate(223.14,354.8) rotate(-90)" text-anchor="end" font-family="Liberation Sans, sans-serif" font-weight="bold" font-size="9.3" fill="#231F20" stroke="#231F20" stroke-width="0.22">W box</text>
<text transform="translate(236.88,354.8) rotate(-90)" text-anchor="end" font-family="Liberation Sans, sans-serif" font-weight="bold" font-size="9.3" fill="#231F20" stroke="#231F20" stroke-width="0.22">WRE3</text>
<text transform="translate(250.62,354.8) rotate(-90)" text-anchor="end" font-family="Liberation Sans, sans-serif" font-weight="bold" font-size="9.3" fill="#231F20" stroke="#231F20" stroke-width="0.22">WUN-motif</text>
<text transform="translate(264.36,354.8) rotate(-90)" text-anchor="end" font-family="Liberation Sans, sans-serif" font-weight="bold" font-size="9.3" fill="#231F20" stroke="#231F20" stroke-width="0.22">AAGAA-motif</text>
<text transform="translate(278.10,354.8) rotate(-90)" text-anchor="end" font-family="Liberation Sans, sans-serif" font-weight="bold" font-size="9.3" fill="#231F20" stroke="#231F20" stroke-width="0.22">ABRE</text>
<text transform="translate(291.84,354.8) rotate(-90)" text-anchor="end" font-family="Liberation Sans, sans-serif" font-weight="bold" font-size="9.3" fill="#231F20" stroke="#231F20" stroke-width="0.22">AuxRE</text>
<text transform="translate(305.58,354.8) rotate(-90)" text-anchor="end" font-family="Liberation Sans, sans-serif" font-weight="bold" font-size="9.3" fill="#231F20" stroke="#231F20" stroke-width="0.22">CGTCA-motif</text>
<text transform="translate(319.32,354.8) rotate(-90)" text-anchor="end" font-family="Liberation Sans, sans-serif" font-weight="bold" font-size="9.3" fill="#231F20" stroke="#231F20" stroke-width="0.22">ERE</text>
<text transform="translate(333.06,354.8) rotate(-90)" text-anchor="end" font-family="Liberation Sans, sans-serif" font-weight="bold" font-size="9.3" fill="#231F20" stroke="#231F20" stroke-width="0.22">GARE-motif</text>
<text transform="translate(346.80,354.8) rotate(-90)" text-anchor="end" font-family="Liberation Sans, sans-serif" font-weight="bold" font-size="9.3" fill="#231F20" stroke="#231F20" stroke-width="0.22">TCA-element</text>
<text transform="translate(360.54,354.8) rotate(-90)" text-anchor="end" font-family="Liberation Sans, sans-serif" font-weight="bold" font-size="9.3" fill="#231F20" stroke="#231F20" stroke-width="0.22">TGACG-motif</text>
<text transform="translate(374.28,354.8) rotate(-90)" text-anchor="end" font-family="Liberation Sans, sans-serif" font-weight="bold" font-size="9.3" fill="#231F20" stroke="#231F20" stroke-width="0.22">TGA-element</text>
<text transform="translate(388.02,354.8) rotate(-90)" text-anchor="end" font-family="Liberation Sans, sans-serif" font-weight="bold" font-size="9.3" fill="#231F20" stroke="#231F20" stroke-width="0.22">ACE</text>
<text transform="translate(401.76,354.8) rotate(-90)" text-anchor="end" font-family="Liberation Sans, sans-serif" font-weight="bold" font-size="9.3" fill="#231F20" stroke="#231F20" stroke-width="0.22">GA-motif</text>
<text transform="translate(415.50,354.8) rotate(-90)" text-anchor="end" font-family="Liberation Sans, sans-serif" font-weight="bold" font-size="9.3" fill="#231F20" stroke="#231F20" stroke-width="0.22">GATA-motif</text>
<text transform="translate(429.24,354.8) rotate(-90)" text-anchor="end" font-family="Liberation Sans, sans-serif" font-weight="bold" font-size="9.3" fill="#231F20" stroke="#231F20" stroke-width="0.22">G-box</text>
<text transform="translate(442.98,354.8) rotate(-90)" text-anchor="end" font-family="Liberation Sans, sans-serif" font-weight="bold" font-size="9.3" fill="#231F20" stroke="#231F20" stroke-width="0.22">GT1-motif</text>
<text transform="translate(456.72,354.8) rotate(-90)" text-anchor="end" font-family="Liberation Sans, sans-serif" font-weight="bold" font-size="9.3" fill="#231F20" stroke="#231F20" stroke-width="0.22">LAMP-element</text>
<text transform="translate(470.46,354.8) rotate(-90)" text-anchor="end" font-family="Liberation Sans, sans-serif" font-weight="bold" font-size="9.3" fill="#231F20" stroke="#231F20" stroke-width="0.22">L-box</text>
<text transform="translate(484.20,354.8) rotate(-90)" text-anchor="end" font-family="Liberation Sans, sans-serif" font-weight="bold" font-size="9.3" fill="#231F20" stroke="#231F20" stroke-width="0.22">TCT-motif</text>
<text transform="translate(497.94,354.8) rotate(-90)" text-anchor="end" font-family="Liberation Sans, sans-serif" font-weight="bold" font-size="9.3" fill="#231F20" stroke="#231F20" stroke-width="0.22">MYB</text>
<text transform="translate(511.68,354.8) rotate(-90)" text-anchor="end" font-family="Liberation Sans, sans-serif" font-weight="bold" font-size="9.3" fill="#231F20" stroke="#231F20" stroke-width="0.22">MYC</text>
<text x="61.5" y="436.9" font-family="Liberation Sans, sans-serif" font-weight="bold" font-size="9.3" fill="#FFFFFF">Develop-</text>
<text x="61.5" y="447.9" font-family="Liberation Sans, sans-serif" font-weight="bold" font-size="9.3" fill="#FFFFFF">ment</text>
<text x="178" y="442.9" text-anchor="middle" font-family="Liberation Sans, sans-serif" font-weight="bold" font-size="9.3" fill="#FFFFFF">Stress responsive</text>
<text x="316" y="442.9" text-anchor="middle" font-family="Liberation Sans, sans-serif" font-weight="bold" font-size="9.3" fill="#FFFFFF">Plant hormone</text>
<text x="436.4" y="442.9" text-anchor="middle" font-family="Liberation Sans, sans-serif" font-weight="bold" font-size="9.3" fill="#FFFFFF">Light responsive</text>
<text x="489.4" y="434.8" font-family="Liberation Sans, sans-serif" font-weight="bold" font-size="7.3" fill="#FFFFFF">Trans-</text>
<text x="489.4" y="443.6" font-family="Liberation Sans, sans-serif" font-weight="bold" font-size="7.3" fill="#FFFFFF">cription</text>
<text x="489.4" y="452.4" font-family="Liberation Sans, sans-serif" font-weight="bold" font-size="7.3" fill="#FFFFFF">factor</text>
</svg>
</body></html>
